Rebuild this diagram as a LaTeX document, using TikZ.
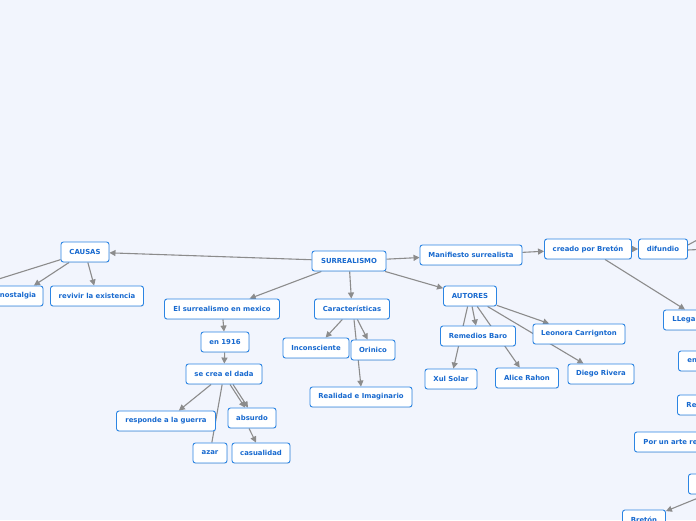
\documentclass[tikz,border=0pt]{standalone}
\usepackage{fontspec}
\setmainfont{DejaVu Sans}
\usetikzlibrary{arrows.meta,calc,shadows}
\definecolor{fondo}{HTML}{F2F5FD}
\definecolor{azul}{HTML}{2C85E3}
\definecolor{azultexto}{HTML}{1769CF}
\definecolor{gris}{HTML}{8C8C8C}
\pgfdeclarelayer{capafondo}
\pgfdeclarelayer{capalineas}
\pgfsetlayers{capafondo,capalineas,main}

\begin{document}
\begin{tikzpicture}[x=1pt, y=-1pt,
		caja/.style = {rectangle, rounded corners=2.5pt, draw=azul,
		line width=0.9pt, fill=white, text=azultexto,
		font=\bfseries\fontsize{6.9}{8}\selectfont, minimum height=20pt,
		inner xsep=3pt, inner ysep=0pt,
		drop shadow={shadow xshift=0.4pt, shadow yshift=-0.7pt, opacity=0.2}},
		cortada/.style = {caja, anchor=west, text width=70pt, align=left,
		inner xsep=9pt},
		flecha/.style = {draw=gris, line width=1.1pt,
		-{Triangle[length=6pt,width=6pt]}},
		traza/.style = {draw=gris, line width=1.1pt}]

	\useasboundingbox (0,0) rectangle (696,520);
	\begin{pgfonlayer}{capafondo}
		\fill[fondo] (0,0) rectangle (696,520);
	\end{pgfonlayer}

	% centro y causas
	\node [caja, minimum width=74pt] (surr) at (349,261) {SURREALISMO};
	\node [caja, minimum width=48pt] (causas) at (85,252) {CAUSAS};
	\node [caja, minimum width=50pt] (nost) at (18,296) {nostalgia};
	\node [caja, minimum width=93pt] (reviv) at (97,296) {revivir la existencia};
	\coordinate (fuera_1) at (-30,288);

	% mexico
	\node [caja, minimum width=115pt] (mex) at (222,309) {El surrealismo en mexico};
	\node [caja, minimum width=48pt] (m_1916) at (225,342) {en 1916};
	\node [caja, minimum width=76pt] (dada) at (224,374) {se crea el dada};
	\node [caja, minimum width=99pt] (guerra) at (166,421) {responde a la guerra};
	\node [caja, minimum width=48pt] (absurdo) at (252,418) {absurdo};
	\node [caja, minimum width=34pt] (azar) at (210,453) {azar};
	\node [caja, minimum width=58pt] (casual) at (261,453) {casualidad};

	% caracteristicas
	\node [caja, minimum width=75pt] (carac) at (352,309) {Características};
	\node [caja, minimum width=66pt] (incons) at (316,348) {Inconsciente};
	\node [caja, minimum width=44pt] (orin) at (373,350) {Orinico};
	\node [caja, minimum width=102pt] (real) at (361,397) {Realidad e Imaginario};

	% manifiesto
	\node [caja, minimum width=102pt] (manif) at (471,255) {Manifiesto surrealista};
	\node [caja, minimum width=87pt] (creado) at (588,249) {creado por Bretón};
	\node [caja, minimum width=49pt] (difund) at (663,249) {difundio};
	\coordinate (fuera_2) at (710,233);
	\coordinate (fuera_3) at (710,249);
	\node [cortada] (llega) at (663,320) {LLega};
	\node [cortada] (en_1) at (678,361) {en};
	\node [cortada] (re_1) at (677,405) {Re};
	\node [cortada] (arte) at (634,442) {Por un arte re};
	\node [cortada] (caja_1) at (688,484) {};
	\node [caja, minimum width=43pt] (breton) at (644,520) {Bretón};

	% autores
	\node [caja, minimum width=53pt] (autores) at (470,296) {AUTORES};
	\node [caja, minimum width=75pt] (remedios) at (478,336) {Remedios Baro};
	\node [caja, minimum width=92pt] (leonora) at (579,334) {Leonora Carrignton};
	\node [caja, minimum width=52pt] (xul) at (451,379) {Xul Solar};
	\node [caja, minimum width=63pt] (alice) at (527,378) {Alice Rahon};
	\node [caja, minimum width=66pt] (diego) at (601,374) {Diego Rivera};

	\begin{pgfonlayer}{capalineas}
		\draw [flecha] (surr) -- (causas);
		\draw [flecha] (causas) -- (nost);
		\draw [flecha] (causas) -- (reviv);
		\draw [traza] (causas) -- (fuera_1);

		\draw [flecha] (surr) -- (mex);
		\draw [flecha] (mex) -- (m_1916);
		\draw [flecha] (m_1916) -- (dada);
		\draw [flecha] (dada) -- (guerra);
		\draw [flecha] ($(dada.south)+(6,0)$) -- ($(absurdo.north)+(-7,0)$);
		\draw [flecha] ($(dada.south)+(9,0)$) -- ($(absurdo.north)+(-4,0)$);
		\draw [traza] (dada) -- (azar);
		\draw [flecha] ($(absurdo.south)+(-3,0)$) -- ($(casual.north)+(-5,0)$);

		\draw [flecha] (surr) -- (carac);
		\draw [flecha] (carac) -- (incons);
		\draw [flecha] (carac) -- (orin);
		\draw [flecha] ($(carac.south)+(2,0)$) -- (real.north);

		\draw [flecha] (surr) -- (manif);
		\draw [flecha] (manif) -- (creado);
		\draw [flecha] (creado) -- (difund);
		\draw [traza] ($(difund.east)+(0,-4)$) -- (fuera_2);
		\draw [traza] ($(difund.east)+(0,1)$) -- (fuera_3);
		\draw [flecha] ($(creado.south)+(17,0)$) -- ($(llega.north west)+(22,0)$);
		\draw [flecha] (caja_1) -- (breton);

		\draw [flecha] (surr) -- (autores);
		\draw [flecha] (autores) -- (remedios);
		\draw [flecha] (autores) -- (xul);
		\draw [flecha] (autores) -- (alice);
		\draw [flecha] (autores) -- (leonora);
		\draw [flecha] (autores) -- (diego);
	\end{pgfonlayer}
\end{tikzpicture}
\end{document}
